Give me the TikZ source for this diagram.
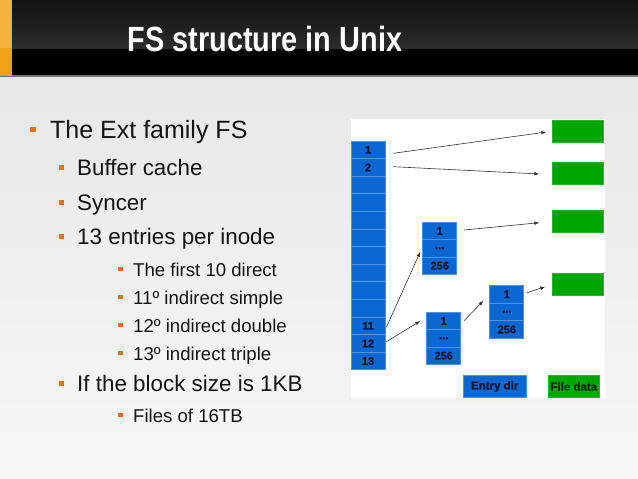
\documentclass[tikz,border=0pt]{standalone}
\usepackage{fontspec}
\setmainfont{Liberation Sans}
\newfontfamily\cellfont[FakeBold=1.2]{Liberation Sans Bold}
\usetikzlibrary{arrows.meta,calc}
\definecolor{cellblue}{HTML}{0A66D0}
\definecolor{celledge}{HTML}{4A95E6}
\definecolor{celltext}{HTML}{0C1838}
\definecolor{boxgreen}{HTML}{00A600}
\definecolor{greentext}{HTML}{062406}
\definecolor{bulletor}{HTML}{E8731A}
\definecolor{textdark}{HTML}{141414}
\definecolor{orangehi}{HTML}{F4B43E}
\definecolor{orangelo}{HTML}{F0A218}
\tikzset{
  cell/.style={rectangle, fill=cellblue, draw=celledge, line width=0.8pt, inner sep=0pt,
    minimum width=34pt, font=\cellfont\fontsize{11}{12}\selectfont, text=celltext},
  gbox/.style={rectangle, fill=boxgreen, draw=boxgreen!85!white, line width=0.6pt, inner sep=0pt,
    minimum width=50.6pt, minimum height=22pt},
  arr/.style={line width=0.6pt, draw=black!80, -{Latex[length=5pt,width=3.6pt]}},
  lvla/.style={anchor=base west, inner sep=0pt, text=textdark, font=\fontsize{25}{30}\selectfont},
  lvlb/.style={anchor=base west, inner sep=0pt, text=textdark, font=\fontsize{22.4}{26}\selectfont},
  lvlc/.style={anchor=base west, inner sep=0pt, text=textdark, font=\fontsize{18.6}{22}\selectfont},
  legend/.style={rectangle, inner sep=0pt, minimum height=22.4pt, font=\cellfont\fontsize{11.5}{13}\selectfont}
}
\begin{document}
\begin{tikzpicture}[x=1pt,y=-1pt]
\useasboundingbox (0,0) rectangle (638,479);
% slide background
\shade[top color=black!9, bottom color=black!3] (0,76) rectangle (638,479);
% title bar
\fill[black] (0,0) rectangle (638,76);
\shade[top color=black!93, bottom color=black!83] (12,0) rectangle (638,48);
\fill[black!55] (0,75) rectangle (638,77);
\fill[orangehi] (0,0) rectangle (12,48);
\fill[orangelo] (0,48) rectangle (12,76);
\node[anchor=base, inner sep=0pt, text=white, font=\bfseries\fontsize{35}{40}\selectfont] (title) at (265,52) {\scalebox{0.825}[1]{FS structure in Unix}};

% bullets
\fill[bulletor] (30,126.7) rectangle (35.8,132.3);
\node[lvla] (t1) at (50,138) {The Ext family FS};
\fill[bulletor] (59.3,165) rectangle (64,170);
\node[lvlb] (t2) at (77,175) {Buffer cache};
\fill[bulletor] (59.3,200) rectangle (64,205);
\node[lvlb] (t3) at (77,210) {Syncer};
\fill[bulletor] (59.3,234) rectangle (64,239);
\node[lvlb] (t4) at (77,244) {13 entries per inode};
\fill[bulletor] (118.3,266.7) rectangle (122.7,271);
\node[lvlc] (t5) at (133,276) {The first 10 direct};
\fill[bulletor] (118.3,294.7) rectangle (122.7,299);
\node[lvlc] (t6) at (133,304) {11º indirect simple};
\fill[bulletor] (118.3,322.7) rectangle (122.7,327);
\node[lvlc] (t7) at (133,332) {12º indirect double};
\fill[bulletor] (118.3,350.7) rectangle (122.7,355);
\node[lvlc] (t8) at (133,360) {13º indirect triple};
\fill[bulletor] (59.3,381) rectangle (64,386);
\node[lvlb] (t9) at (77,391) {If the block size is 1KB};
\fill[bulletor] (118.3,413) rectangle (122.7,417.3);
\node[lvlc] (t10) at (133,422.3) {Files of 16TB};

% diagram panel
\fill[white] (351,119) rectangle (605,398);

% inode column
\begin{scope}[every node/.append style={cell, minimum height=17.6pt}]
\node (n1) at (368,149.8) {1};
\node (n2) at (368,167.4) {2};
\node (n3) at (368,185.0) {};
\node (n4) at (368,202.6) {};
\node (n5) at (368,220.2) {};
\node (n6) at (368,237.8) {};
\node (n7) at (368,255.4) {};
\node (n8) at (368,273.0) {};
\node (n9) at (368,290.6) {};
\node (n10) at (368,308.2) {};
\node (n11) at (368,325.8) {11};
\node (n12) at (368,343.4) {12};
\node (n13) at (368,361.0) {13};
\end{scope}

% single indirect block
\begin{scope}[every node/.append style={cell, minimum height=17.33pt}]
\node (s1) at (439.7,231.0) {1};
\node (s2) at (439.7,248.3) {...};
\node (s3) at (439.7,265.7) {256};
% double indirect, first level
\node (d1) at (443.7,321.0) {1};
\node (d2) at (443.7,338.3) {...};
\node (d3) at (443.7,355.7) {256};
\end{scope}
\begin{scope}[every node/.append style={cell, minimum height=17.67pt}]
\node (e1) at (506.8,294.2) {1};
\node (e2) at (506.8,311.8) {...};
\node (e3) at (506.8,329.5) {256};
\end{scope}

% data blocks
\node[gbox] (g1) at (578,131.2) {};
\node[gbox] (g2) at (578,173.3) {};
\node[gbox] (g3) at (578,221.0) {};
\node[gbox] (g4) at (578,284.2) {};

% legend
\node[legend, fill=cellblue, draw=celledge, line width=0.6pt, minimum width=62.7pt, text=celltext] (ldir) at (494.7,386.5) {Entry dir};
\node[legend, fill=boxgreen, draw=boxgreen!85!white, line width=0.6pt, minimum width=50.3pt, text=greentext] (ldata) at (573.8,386.5) {File data};

% pointers
\draw[arr] ($(n1.east)+(8,3.5)$) -- ($(g1.west)+(-6,0.8)$);
\draw[arr] ($(n2.east)+(8,-0.7)$) -- ($(g2.west)+(-13,0.7)$);
\draw[arr] ($(s1.east)+(7,-1)$) -- ($(g3.west)+(-13,1.7)$);
\draw[arr] ($(n11.east)+(1,1.5)$) -- ($(s2.west)+(-2,3.4)$);
\draw[arr] ($(n12.east)+(1,-1.7)$) -- ($(d1.west)+(-6,0)$);
\draw[arr] ($(d1.east)+(3,-0.3)$) -- ($(e1.west)+(-6,6.5)$);
\draw[arr] ($(e1.east)+(3,-1.5)$) -- ($(g4.west)+(-7,2.5)$);
\end{tikzpicture}
\end{document}
